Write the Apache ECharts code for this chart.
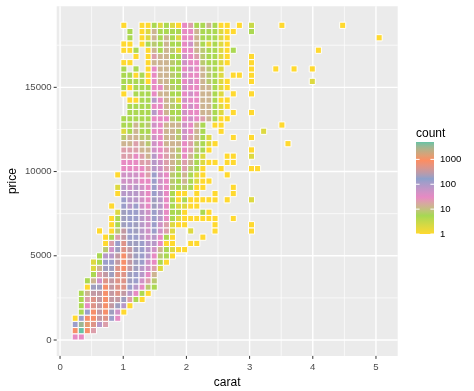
<!DOCTYPE html>
<html><head><meta charset="utf-8">
<script src="https://cdn.jsdelivr.net/npm/echarts@6/dist/echarts.min.js"></script>
<style>html,body{margin:0;padding:0;background:#fff}#chart{width:474px;height:391px}</style>
</head><body><div id="chart"></div>
<script>
// ---- bin definitions (ggplot2 stat_bin_2d, bins = 50) ----
const caratOrigin = 0.1924;
const caratBinwidth = 0.0962;
const priceOrigin = 0;
const priceBinwidth = 369.94;
const nCaratBins = 51;
const nPriceBins = 51;

// estimated count for each code letter read from the colours
const countCodes = {'1':1,'2':2,'3':3,'4':5,'5':8,'6':13,'7':20,'8':30,'9':50,'A':80,'B':130,'C':200,'D':320,'E':500,'F':800,'G':1300,'H':2000,'I':3200,'J':5000};

// one string per price bin (row 0 = lowest price), one char per carat bin (cols 0..31)
const priceRows = [
"88..............................",
"FJF7............................",
"BIGEA7..........................",
"1BFFDEB8........................",
".4BFDFC91.......................",
".48EDFDCA1......................",
".47EDFDDC741....................",
".46DDFDEDA841...................",
"..1CCFDEEBA854..................",
"..469EDEECB975..................",
"...47DCEECBA86..................",
"...26CCEFDCA972.................",
"...24BBDFDCB9841................",
"....4AADFDCBA8541...............",
".....59CEDCBA964211.............",
".....17BECCBAA811..11...........",
".....147DBBA9A841....1..........",
"....1.15DBCA9B972..2...1.....1..",
"......14CBCA9B97211....1.....1..",
"......14CBBA9BA842111111..1.....",
".......2CBBA9BA8441..41.........",
"......1.BAB98CA842211...........",
"........BAA98CA841411111.1...2..",
".......1AAA98BA8411.1..1..1.....",
".......2A9A98B98545411....1.....",
"........99988B985464211.........",
".......199987B98546421...1......",
"........88887A97647541..1....11.",
"........88877A9765764211.11.....",
"........77876A87658642...11..2..",
"........777669876587541......1..",
"........6676598666875421........",
"........566559866597642...1..1..",
"........24644886659864..1......2",
"........44645986669864.11.......",
"........444448885489876411......",
".........4444A86449886642.1..1..",
".........44448865489866421......",
".........1144A865298866411......",
"........1.444866448986642.1..1..",
"........414448865498866421......",
"........444418664489865421...1..",
"........44141866549886542.11.1..",
"........4.4.1866448986542....1..",
"........11..16665498854421...1..",
"..........1.17664498754421...1..",
"........114.164652886544214.....",
"........11.145464489642421......",
".........4.126464288644421......",
".........4.1264444886444211..4..",
"........1..114242187446411.1.3.."
];

// sparse bins beyond col 31: [carat bin, price bin, count]
const outliers = [[34,50,1],[44,50,1],[50,48,1],[40,46,1],[33,43,1],[36,43,1],[39,43,1],[39,41,2],[34,34,1],[35,31,1]];

// axis breaks
const xBreaks = [0,1,2,3,4,5];
const xMinorBreaks = [0.5,1.5,2.5,3.5,4.5];
const yBreaks = [0,5000,10000,15000];
const yMinorBreaks = [2500,7500,12500,17500];
const legendBreaks = [1,10,100,1000];
const palette = ["#FFD92F","#A6D854","#E78AC3","#8DA0CB","#FC8D62","#66C2A5"];

// ---- build tiles ----
function mkTile(i, j, c) {
  const x0 = caratOrigin + i * caratBinwidth, y0 = priceOrigin + j * priceBinwidth;
  return [x0, x0 + caratBinwidth, y0, y0 + priceBinwidth, Math.log10(c), c];
}
const tiles = [];
priceRows.forEach((row, j) => {
  for (let i = 0; i < row.length; i++) {
    const ch = row[i];
    if (ch === '.' || !(ch in countCodes)) continue;
    tiles.push(mkTile(i, j, countCodes[ch]));
  }
});
outliers.forEach(o => tiles.push(mkTile(o[0], o[1], o[2])));
const maxCount = Math.max(...tiles.map(t => t[5]));
const logMax = Math.log10(maxCount);

// ---- Lab interpolation of the palette (as ggplot does) ----
function hex2rgb(h){return [1,3,5].map(k=>parseInt(h.slice(k,k+2),16)/255);}
function lin(c){return c<=0.04045?c/12.92:Math.pow((c+0.055)/1.055,2.4);}
function delin(c){return c<=0.0031308?12.92*c:1.055*Math.pow(c,1/2.4)-0.055;}
function rgb2lab(rgb){
  const [r,g,b]=rgb.map(lin);
  const X=(0.4124*r+0.3576*g+0.1805*b)/0.95047,Y=(0.2126*r+0.7152*g+0.0722*b),Z=(0.0193*r+0.1192*g+0.9505*b)/1.08883;
  const f=t=>t>0.008856?Math.cbrt(t):7.787*t+16/116;
  const fx=f(X),fy=f(Y),fz=f(Z);
  return [116*fy-16,500*(fx-fy),200*(fy-fz)];
}
function lab2hex(lab){
  const fy=(lab[0]+16)/116,fx=fy+lab[1]/500,fz=fy-lab[2]/200;
  const fi=t=>t*t*t>0.008856?t*t*t:(t-16/116)/7.787;
  const X=fi(fx)*0.95047,Y=fi(fy),Z=fi(fz)*1.08883;
  let r=3.2406*X-1.5372*Y-0.4986*Z,g=-0.9689*X+1.8758*Y+0.0415*Z,b=0.0557*X-0.2040*Y+1.0570*Z;
  return '#'+[r,g,b].map(v=>{v=Math.round(Math.min(1,Math.max(0,delin(v)))*255);return v.toString(16).padStart(2,'0');}).join('');
}
const labs = palette.map(h=>rgb2lab(hex2rgb(h)));
const NSTOP = 60;
const rampColors = [];
for (let k=0;k<=NSTOP;k++){
  const t=k/NSTOP*(palette.length-1); const i=Math.min(palette.length-2,Math.floor(t)); const f=t-i;
  rampColors.push(lab2hex(labs[i].map((v,q)=>v+(labs[i+1][q]-v)*f)));
}

// ---- axis limits with ggplot's 5% expansion ----
const xLo = caratOrigin, xHi = caratOrigin + nCaratBins*caratBinwidth;
const yLo = priceOrigin, yHi = priceOrigin + nPriceBins*priceBinwidth;
const xMin = xLo - 0.05*(xHi-xLo), xMax = xHi + 0.05*(xHi-xLo);
const yMin = yLo - 0.05*(yHi-yLo), yMax = yHi + 0.05*(yHi-yLo);

const gridData = [];
xBreaks.forEach(v=>gridData.push([v,0,1]));
xMinorBreaks.forEach(v=>gridData.push([v,0,0]));
yBreaks.forEach(v=>gridData.push([v,1,1]));
yMinorBreaks.forEach(v=>gridData.push([v,1,0]));
const tickData = [];
xBreaks.forEach(v=>tickData.push([v,0]));
yBreaks.forEach(v=>tickData.push([v,1]));

// ---- legend (colourbar) ----
const FONT = 'Liberation Sans, Arial, sans-serif';
const barX=416, barTop=142, barW=18, barH=92;
const barBottom = barTop + barH;
const legendEls = [
  {type:'text', x:barX, y:134, style:{text:'count', fontSize:12, fontFamily:FONT, fill:'#000', align:'left', verticalAlign:'middle'}},
  {type:'rect', shape:{x:barX, y:barTop, width:barW, height:barH},
   style:{fill:{type:'linear', x:0, y:1, x2:0, y2:0, colorStops: rampColors.map((c,k)=>({offset:k/NSTOP, color:c}))}}}
];
legendBreaks.forEach(b=>{
  const y = barBottom - Math.log10(b)/logMax*barH;
  legendEls.push({type:'line', shape:{x1:barX, y1:y, x2:barX+barW/5, y2:y}, style:{stroke:'#fff', lineWidth:1}});
  legendEls.push({type:'line', shape:{x1:barX+barW-barW/5, y1:y, x2:barX+barW, y2:y}, style:{stroke:'#fff', lineWidth:1}});
  legendEls.push({type:'text', x:barX+barW+6, y:y, style:{text:String(b), fontSize:9.6, fontFamily:FONT, fill:'#000', align:'left', verticalAlign:'middle'}});
});

const chart = echarts.init(document.getElementById('chart'));
chart.setOption({
  animation:false,
  backgroundColor:'#fff',
  grid:{left:56.7, right:76.3, top:6.3, bottom:35.1, show:true, backgroundColor:'#EBEBEB', borderWidth:0, containLabel:false, outerBoundsMode:'none'},
  xAxis:{type:'value', min:xMin, max:xMax, name:'carat', nameLocation:'middle', nameGap:20,
    nameTextStyle:{fontSize:12, fontFamily:FONT, color:'#000'},
    axisLine:{show:false}, splitLine:{show:false}, axisTick:{show:false},
    axisLabel:{customValues:xBreaks, fontSize:9.6, fontFamily:FONT, color:'#4D4D4D', margin:6, formatter:v=>String(v)}},
  yAxis:{type:'value', min:yMin, max:yMax, name:'price', nameLocation:'middle', nameGap:38, nameRotate:90, nameMoveOverlap:false,
    nameTextStyle:{fontSize:12, fontFamily:FONT, color:'#000'},
    axisLine:{show:false}, splitLine:{show:false}, axisTick:{show:false},
    axisLabel:{customValues:yBreaks, fontSize:9.6, fontFamily:FONT, color:'#4D4D4D', margin:5, formatter:v=>String(v)}},
  visualMap:{type:'continuous', show:false, seriesIndex:1, dimension:4, min:0, max:logMax, inRange:{color:rampColors}},
  graphic: legendEls,
  series:[
    {type:'custom', z:1, silent:true, data:gridData, encode:{x:0},
     renderItem:(params, api)=>{
       const v=api.value(0), horiz=api.value(1)===1, major=api.value(2)===1;
       const p0 = horiz? api.coord([xMin, v]) : api.coord([v, yMin]);
       const p1 = horiz? api.coord([xMax, v]) : api.coord([v, yMax]);
       return {type:'line', shape:{x1:p0[0], y1:p0[1], x2:p1[0], y2:p1[1]}, style:{stroke:'#FFFFFF', lineWidth: major?1.4:0.7}};
     }},
    {type:'custom', z:2, data:tiles, encode:{x:[0,1], y:[2,3]},
     renderItem:(params, api)=>{
       const a = api.coord([api.value(0), api.value(3)]);
       const b = api.coord([api.value(1), api.value(2)]);
       return {type:'rect', shape:{x:a[0], y:a[1], width:b[0]-a[0], height:b[1]-a[1]},
         style:{fill:api.visual('color'), stroke:'#FFFFFF', lineWidth:1}};
     }},
    {type:'custom', z:3, silent:true, clip:false, data:tickData, encode:{x:0},
     renderItem:(params, api)=>{
       const v=api.value(0), isY=api.value(1)===1;
       if (isY) { const p=api.coord([xMin, v]); return {type:'line', shape:{x1:p[0]-3, y1:p[1], x2:p[0], y2:p[1]}, style:{stroke:'#333333', lineWidth:1}}; }
       const p=api.coord([v, yMin]); return {type:'line', shape:{x1:p[0], y1:p[1], x2:p[0], y2:p[1]+3}, style:{stroke:'#333333', lineWidth:1}};
     }}
  ]
});
</script></body></html>
